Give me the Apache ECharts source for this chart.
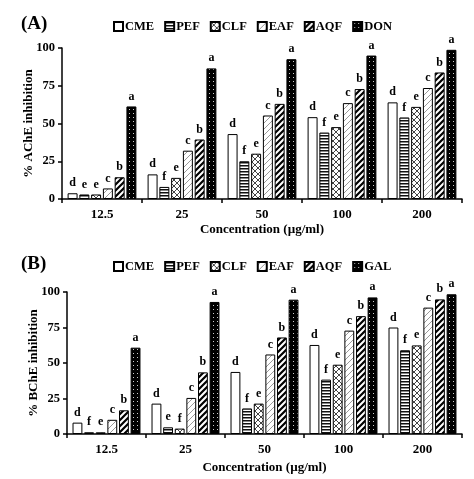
<!DOCTYPE html>
<html>
<head>
<meta charset="utf-8">
<script src="https://cdn.jsdelivr.net/npm/echarts@6/dist/echarts.min.js"></script>
<style>
  html, body { margin: 0; padding: 0; background: #fff; }
  #chartA { width: 474px; height: 240px; }
  #chartB { width: 474px; height: 239px; }
</style>
</head>
<body>
<div id="chartA"></div>
<div id="chartB"></div>
<script>
var concentrations = ['12.5', '25', '50', '100', '200'];
var tickValues = [0, 25, 50, 75, 100];

// panel A - AChE
var achCME = [3.8, 16.3, 43, 54.2, 64];
var achPEF = [3, 8, 25, 44, 54];
var achCLF = [3, 14, 30, 47.6, 61];
var achEAF = [7, 32, 55.3, 63.5, 73.5];
var achAQF = [14.4, 39.4, 63, 72.8, 83.8];
var achDON = [61.3, 86.5, 92.6, 95, 98.8];
var achLetters = [
  ['d', 'd', 'd', 'd', 'd'],
  ['e', 'f', 'f', 'f', 'f'],
  ['e', 'e', 'e', 'e', 'e'],
  ['c', 'c', 'c', 'c', 'c'],
  ['b', 'b', 'b', 'b', 'b'],
  ['a', 'a', 'a', 'a', 'a']
];

// panel B - BChE
var bchCME = [8, 21.4, 43.7, 62.7, 75];
var bchPEF = [1.2, 4.7, 18, 38.3, 59];
var bchCLF = [1.2, 3.8, 21.4, 48.8, 62.4];
var bchEAF = [10, 25.4, 56, 72.8, 89];
var bchAQF = [16.7, 43.4, 68, 83, 94.8];
var bchGAL = [60.8, 93, 94.6, 96.2, 98.4];
var bchLetters = [
  ['d', 'd', 'd', 'd', 'd'],
  ['f', 'e', 'f', 'f', 'f'],
  ['e', 'f', 'e', 'e', 'e'],
  ['c', 'c', 'c', 'c', 'c'],
  ['b', 'b', 'b', 'b', 'b'],
  ['a', 'a', 'a', 'a', 'a']
];

var FONT = 'Liberation Serif';

function makePattern(w, h, draw) {
  var c = document.createElement('canvas');
  c.width = w; c.height = h;
  var ctx = c.getContext('2d');
  ctx.fillStyle = '#fff';
  ctx.fillRect(0, 0, w, h);
  draw(ctx);
  return { image: c, repeat: 'repeat' };
}

var fills = [
  '#ffffff',
  // horizontal stripes
  makePattern(4, 3, function (ctx) {
    ctx.fillStyle = '#111';
    ctx.fillRect(0, 0, 4, 1.5);
  }),
  // crosshatch
  makePattern(6, 6, function (ctx) {
    ctx.strokeStyle = '#444';
    ctx.lineWidth = 1;
    ctx.beginPath();
    ctx.moveTo(0, 0); ctx.lineTo(6, 6);
    ctx.moveTo(6, 0); ctx.lineTo(0, 6);
    ctx.stroke();
  }),
  // light dashes
  makePattern(6, 6, function (ctx) {
    ctx.strokeStyle = '#999';
    ctx.lineWidth = 1;
    ctx.beginPath();
    ctx.moveTo(0, 3); ctx.lineTo(3, 0);
    ctx.moveTo(3, 6); ctx.lineTo(6, 3);
    ctx.stroke();
  }),
  // bold diagonals
  makePattern(6, 6, function (ctx) {
    ctx.strokeStyle = '#000';
    ctx.lineWidth = 2.2;
    ctx.beginPath();
    ctx.moveTo(-1, 7); ctx.lineTo(7, -1);
    ctx.moveTo(-4, 4); ctx.lineTo(4, -4);
    ctx.moveTo(2, 10); ctx.lineTo(10, 2);
    ctx.stroke();
  }),
  // black with white dots
  makePattern(4, 4, function (ctx) {
    ctx.fillStyle = '#000';
    ctx.fillRect(0, 0, 4, 4);
    ctx.fillStyle = '#ccc';
    ctx.fillRect(1, 1, 1, 1);
  })
];

function buildOption(panel, yName, names, values, letters, gridTop, gridHeight, gridLeft, xNameGap) {
  var series = [];
  for (var i = 0; i < names.length; i++) {
    series.push({
      name: names[i],
      type: 'bar',
      data: values[i],
      barGap: '18%',
      barCategoryGap: '14%',
      itemStyle: { color: fills[i], borderColor: '#000', borderWidth: 1 },
      label: {
        show: true,
        position: 'top',
        distance: 4,
        fontFamily: FONT,
        fontWeight: 'bold',
        fontSize: 12,
        color: '#000',
        formatter: (function (idx) {
          return function (p) { return letters[idx][p.dataIndex]; };
        })(i)
      }
    });
  }
  return {
    animation: false,
    title: {
      text: panel,
      left: 16,
      top: 10,
      textStyle: { fontFamily: FONT, fontWeight: 'bold', fontSize: 19, color: '#000' }
    },
    legend: {
      data: names,
      left: 108,
      top: 15,
      icon: 'rect',
      itemWidth: 9,
      itemHeight: 9,
      itemGap: 10,
      selectedMode: false,
      textStyle: { fontFamily: FONT, fontWeight: 'bold', fontSize: 12.5, color: '#000', padding: [0, 0, 0, -3] }
    },
    grid: { left: gridLeft, right: 12, top: gridTop, height: gridHeight, outerBoundsMode: 'none' },
    xAxis: {
      type: 'category',
      data: concentrations,
      name: 'Concentration (µg/ml)',
      nameLocation: 'middle',
      nameGap: xNameGap,
      nameMoveOverlap: false,
      nameTextStyle: { fontFamily: FONT, fontWeight: 'bold', fontSize: 13, color: '#000' },
      axisLine: { lineStyle: { color: '#000', width: 1.5 } },
      axisTick: { show: true, length: 4, lineStyle: { color: '#000', width: 1.5 } },
      axisLabel: { fontFamily: FONT, fontWeight: 'bold', fontSize: 13, color: '#000', margin: 9 }
    },
    yAxis: {
      type: 'value',
      min: tickValues[0],
      max: tickValues[tickValues.length - 1],
      interval: 25,
      name: yName,
      nameLocation: 'middle',
      nameGap: 27,
      nameMoveOverlap: false,
      nameTextStyle: { fontFamily: FONT, fontWeight: 'bold', fontSize: 13, color: '#000' },
      splitLine: { show: false },
      axisLine: { show: true, lineStyle: { color: '#000', width: 1.5 } },
      axisTick: { show: true, length: 4, lineStyle: { color: '#000', width: 1.5 } },
      axisLabel: { fontFamily: FONT, fontWeight: 'bold', fontSize: 12.5, color: '#000', margin: 7 }
    },
    series: series
  };
}

var chartA = echarts.init(document.getElementById('chartA'));
chartA.setOption(buildOption('(A)', '% AChE inhibition',
  ['CME', 'PEF', 'CLF', 'EAF', 'AQF', 'DON'],
  [achCME, achPEF, achCLF, achEAF, achAQF, achDON],
  achLetters, 48, 151, 62, 24));

var chartB = echarts.init(document.getElementById('chartB'));
chartB.setOption(buildOption('(B)', '% BChE inhibition',
  ['CME', 'PEF', 'CLF', 'EAF', 'AQF', 'GAL'],
  [bchCME, bchPEF, bchCLF, bchEAF, bchAQF, bchGAL],
  bchLetters, 52, 142, 67, 27));
</script>
</body>
</html>
